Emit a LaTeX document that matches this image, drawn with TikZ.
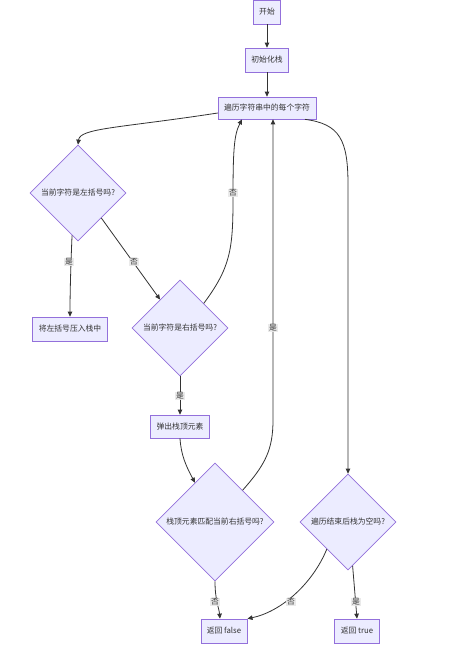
\documentclass[tikz,border=0pt]{standalone}
\usepackage{fontspec}
\setmainfont{Noto Sans CJK SC}
\usetikzlibrary{shapes.geometric,arrows.meta}
\definecolor{nfill}{HTML}{ECECFF}
\definecolor{nline}{HTML}{9370DB}
\definecolor{eline}{HTML}{333333}
\definecolor{lfill}{HTML}{E8E8E8}
\tikzset{
  every node/.style={font=\fontsize{7.8}{9}\selectfont, text=eline},
  procbox/.style={draw=nline, fill=nfill, line width=0.7pt, rectangle, inner xsep=6pt, inner ysep=0pt, minimum height=24pt},
  decbox/.style={draw=nline, fill=nfill, line width=0.7pt, diamond, aspect=1, inner sep=0pt},
  conn/.style={draw=eline, line width=0.8pt, -{Triangle[length=5pt,width=4.5pt]}},
  elabel/.style={fill=lfill, fill opacity=0.9, text opacity=1, inner sep=1pt}
}
\begin{document}
\begin{tikzpicture}[x=1pt,y=-1pt]
\path[use as bounding box, fill=white] (0,0) rectangle (448,656);
\node[procbox] (start) at (267,12) {开始};
\node[procbox] (init) at (267,60) {初始化栈};
\node[procbox, minimum height=22pt] (trav) at (267,108) {遍历字符串中的每个字符};
\node[decbox, minimum width=96pt, minimum height=96pt] (d1) at (78,193) {当前字符是左括号吗?};
\node[procbox] (push) at (70,329) {将左括号压入栈中};
\node[decbox, minimum width=96pt, minimum height=96pt] (d2) at (180,328) {当前字符是右括号吗?};
\node[procbox, minimum height=23pt] (pop) at (180,426.5) {弹出栈顶元素};
\node[decbox, minimum width=118pt, minimum height=118pt] (d3) at (215,522) {栈顶元素匹配当前右括号吗?};
\node[decbox, minimum width=96pt, minimum height=96pt] (d4) at (348,522) {遍历结束后栈为空吗?};
\node[procbox] (false) at (224,631) {返回 false};
\node[procbox] (true) at (357,631) {返回 true};

\draw[conn] (start) -- (init);
\draw[conn] (init) -- (trav);
\draw[conn] ([yshift=-5pt]trav.west) .. controls (120,128) and (80,128) .. (d1.north);
\draw[conn] ([xshift=38pt]trav.south) .. controls (340,124) and (348,140) .. (348,185) -- (d4.north);
\draw[conn] (d1.-98) .. controls (71,260) and (70,290) .. (push.north);
\draw[conn] (d1.-47) -- (d2.125);
\draw[conn] (d2.46) .. controls (230,268) and (233,250) .. (233,200) .. controls (233,150) and (234,135) .. ([xshift=-25pt]trav.south);
\draw[conn] (d2.south) -- (pop.north);
\draw[conn] (pop.south) .. controls (181,455) and (186,466) .. (d3.117);
\draw[conn] (d3.49) .. controls (265,465) and (273,450) .. (273,420) -- ([xshift=6pt]trav.south);
\draw[conn] (d3.south) .. controls (215,600) and (219,608) .. ([xshift=-4pt]false.north);
\draw[conn] (d4.-128) .. controls (312,585) and (280,612) .. (false.north east);
\draw[conn] (d4.-84) -- (true.north);

\node[elabel] (l1) at (69,262) {是};
\node[elabel] (l2) at (134,262) {否};
\node[elabel] (l3) at (233,193) {否};
\node[elabel] (l4) at (180,396) {是};
\node[elabel] (l5) at (273,328) {是};
\node[elabel] (l6) at (215,602) {否};
\node[elabel] (l7) at (291,602) {否};
\node[elabel] (l8) at (356,602) {是};
\end{tikzpicture}
\end{document}
